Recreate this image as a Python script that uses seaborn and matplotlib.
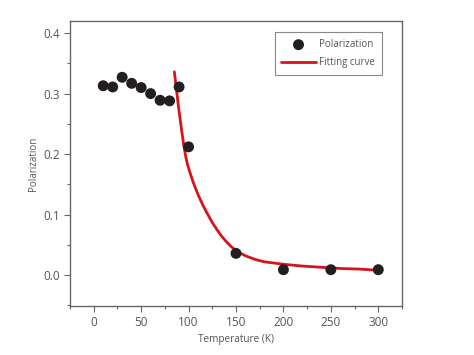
import matplotlib
matplotlib.use("Agg")
import matplotlib.pyplot as plt
import seaborn as sns
import pandas as pd
from matplotlib.ticker import MultipleLocator

# Measured data
temperature = [10, 20, 30, 40, 50, 60, 70, 80, 90, 100, 150, 200, 250, 300]
polarization = [0.313, 0.311, 0.327, 0.317, 0.310, 0.300, 0.289, 0.288, 0.311,
                0.212, 0.036, 0.009, 0.009, 0.009]

# Fitting curve
fit_t = [85, 87, 89, 91, 93, 95, 97, 99, 102, 105, 110, 115, 120, 125, 130,
         135, 140, 145, 150, 155, 160, 170, 180, 190, 200, 220, 240, 260, 280, 300]
fit_p = [0.336, 0.310, 0.283, 0.259, 0.236, 0.214, 0.196, 0.182, 0.167, 0.153,
         0.133, 0.116, 0.101, 0.087, 0.075, 0.064, 0.055, 0.047, 0.041, 0.036,
         0.032, 0.026, 0.022, 0.020, 0.018, 0.015, 0.013, 0.011, 0.010, 0.008]

x_ticks = [0, 50, 100, 150, 200, 250, 300]
y_ticks = [0.0, 0.1, 0.2, 0.3, 0.4]

sns.set_theme(style="ticks")
plt.rcParams['font.family'] = ['Open Sans', 'DejaVu Sans']

fig = plt.figure(figsize=(4.74, 3.55), dpi=100)
ax = fig.add_axes([70/474, 49/355, 332/474, 285/355])

df = pd.DataFrame({"T": temperature, "P": polarization})
fit_df = pd.DataFrame({"T": fit_t, "P": fit_p})

sns.lineplot(data=fit_df, x="T", y="P", ax=ax, color="#d7141c", lw=2,
             label="Fitting curve", sort=True, zorder=2)
sns.scatterplot(data=df, x="T", y="P", ax=ax, color="#231f20", s=62,
                edgecolor="none", label="Polarization", zorder=3)

ax.set_xlim(-25, 325)
ax.set_ylim(-0.051, 0.42)
ax.set_xticks(x_ticks)
ax.set_yticks(y_ticks)
ax.set_yticklabels([f"{v:.1f}" for v in y_ticks])
ax.xaxis.set_minor_locator(MultipleLocator(25))
ax.yaxis.set_minor_locator(MultipleLocator(0.05))

grey = "#555555"
for s in ax.spines.values():
    s.set_color("#666666")
    s.set_linewidth(1.0)
ax.tick_params(which="major", length=4, width=0.8, color="#666666",
               labelsize=8.5, labelcolor=grey, pad=3)
ax.tick_params(which="minor", length=2.5, width=0.8, color="#666666")

ax.set_xlabel("Temperature (K)", fontsize=7.2, color=grey, labelpad=4)
ax.set_ylabel("Polarization", fontsize=7, color=grey, labelpad=3)

handles, labels = ax.get_legend_handles_labels()
order = [labels.index("Polarization"), labels.index("Fitting curve")]
leg = ax.legend([handles[i] for i in order], [labels[i] for i in order],
                loc="upper right", bbox_to_anchor=(0.94, 0.96),
                fontsize=7, frameon=True, fancybox=False, framealpha=1,
                edgecolor="#888888", handlelength=3.5, borderpad=0.7,
                labelspacing=0.7, handletextpad=0.4, borderaxespad=0)
leg.get_frame().set_linewidth(0.8)
for t in leg.get_texts():
    t.set_color(grey)

fig.savefig("out.png", dpi=100)
